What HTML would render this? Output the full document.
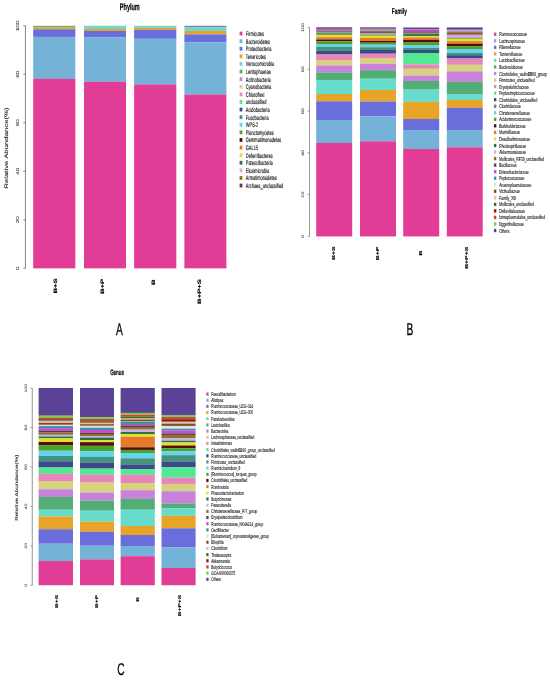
<!DOCTYPE html>
<html lang="en"><head><meta charset="utf-8"><title>Relative abundance: Phylum, Family, Genus</title>
<style>
html,body{margin:0;padding:0;background:#fff;}
body{width:550px;height:680px;overflow:hidden;}
svg{display:block;font-family:"Liberation Sans",sans-serif;text-rendering:geometricPrecision;}
</style></head><body>
<svg width="550" height="680" viewBox="0 0 550 680">
<defs><filter id="soft" x="0" y="0" width="550" height="680" filterUnits="userSpaceOnUse"><feGaussianBlur stdDeviation="0.45"/></filter></defs>
<rect width="550" height="680" fill="#fff"/>
<g filter="url(#soft)">
<g id="chartA">
<rect x="33.20" y="25.80" width="42.15" height="1.45" fill="#4DB88A"/>
<rect x="33.20" y="27.20" width="42.15" height="2.15" fill="#E8A428"/>
<rect x="33.20" y="29.30" width="42.15" height="7.65" fill="#6A6EDA"/>
<rect x="33.20" y="36.90" width="42.15" height="41.95" fill="#74B2D8"/>
<rect x="33.20" y="78.80" width="42.15" height="189.55" fill="#E23E96"/>
<rect x="84.00" y="25.80" width="42.00" height="0.85" fill="#4DB88A"/>
<rect x="84.00" y="26.60" width="42.00" height="2.35" fill="#68DCCC"/>
<rect x="84.00" y="28.90" width="42.00" height="2.05" fill="#E8A428"/>
<rect x="84.00" y="30.90" width="42.00" height="6.65" fill="#6A6EDA"/>
<rect x="84.00" y="37.50" width="42.00" height="44.35" fill="#74B2D8"/>
<rect x="84.00" y="81.80" width="42.00" height="186.55" fill="#E23E96"/>
<rect x="134.10" y="25.80" width="42.20" height="0.75" fill="#4DB88A"/>
<rect x="134.10" y="26.50" width="42.20" height="1.45" fill="#68DCCC"/>
<rect x="134.10" y="27.90" width="42.20" height="1.95" fill="#E8A428"/>
<rect x="134.10" y="29.80" width="42.20" height="9.05" fill="#6A6EDA"/>
<rect x="134.10" y="38.80" width="42.20" height="45.65" fill="#74B2D8"/>
<rect x="134.10" y="84.40" width="42.20" height="183.95" fill="#E23E96"/>
<rect x="184.40" y="25.80" width="42.00" height="1.35" fill="#A070A0"/>
<rect x="184.40" y="27.10" width="42.00" height="3.85" fill="#68DCCC"/>
<rect x="184.40" y="30.90" width="42.00" height="3.55" fill="#E8A428"/>
<rect x="184.40" y="34.40" width="42.00" height="8.05" fill="#6A6EDA"/>
<rect x="184.40" y="42.40" width="42.00" height="52.25" fill="#74B2D8"/>
<rect x="184.40" y="94.60" width="42.00" height="173.75" fill="#E23E96"/>
<g stroke="#222" stroke-width="0.55" fill="none">
<path d="M25.45 25.75V268.30M25.45 268.30H23.30M25.45 219.79H23.30M25.45 171.28H23.30M25.45 122.77H23.30M25.45 74.26H23.30M25.45 25.75H23.30"/></g>
<text transform="translate(19.20 268.30) rotate(-90) scale(1.520 1.000)" font-size="4.2" text-anchor="middle" fill="#333" stroke="#333" stroke-width="0.05">0</text>
<text transform="translate(19.20 219.79) rotate(-90) scale(1.520 1.000)" font-size="4.2" text-anchor="middle" fill="#333" stroke="#333" stroke-width="0.05">20</text>
<text transform="translate(19.20 171.28) rotate(-90) scale(1.520 1.000)" font-size="4.2" text-anchor="middle" fill="#333" stroke="#333" stroke-width="0.05">40</text>
<text transform="translate(19.20 122.77) rotate(-90) scale(1.520 1.000)" font-size="4.2" text-anchor="middle" fill="#333" stroke="#333" stroke-width="0.05">60</text>
<text transform="translate(19.20 74.26) rotate(-90) scale(1.520 1.000)" font-size="4.2" text-anchor="middle" fill="#333" stroke="#333" stroke-width="0.05">80</text>
<text transform="translate(19.20 25.75) rotate(-90) scale(1.520 1.000)" font-size="4.2" text-anchor="middle" fill="#333" stroke="#333" stroke-width="0.05">100</text>
<text transform="translate(8.30 148.03) rotate(-90) scale(1.500 1.000)" font-size="5.2" text-anchor="middle" fill="#222" stroke="#222" stroke-width="0.12">Relative Abundance(%)</text>
<text transform="translate(129.80 9.50) scale(0.573 1.000)" font-size="9.6" font-weight="bold" text-anchor="middle" fill="#000" stroke="#000" stroke-width="0.25">Phylum</text>
<rect x="239.60" y="31.65" width="2.80" height="3.80" fill="#E23E96"/>
<text transform="translate(245.80 35.90) scale(0.598 1.000)" font-size="6.6" fill="#111" stroke="#111" stroke-width="0.13">Firmicutes</text>
<rect x="239.60" y="39.25" width="2.80" height="3.80" fill="#74B2D8"/>
<text transform="translate(245.80 43.50) scale(0.598 1.000)" font-size="6.6" fill="#111" stroke="#111" stroke-width="0.13">Bacteroidetes</text>
<rect x="239.60" y="46.85" width="2.80" height="3.80" fill="#6A6EDA"/>
<text transform="translate(245.80 51.10) scale(0.598 1.000)" font-size="6.6" fill="#111" stroke="#111" stroke-width="0.13">Proteobacteria</text>
<rect x="239.60" y="54.45" width="2.80" height="3.80" fill="#E8A428"/>
<text transform="translate(245.80 58.70) scale(0.598 1.000)" font-size="6.6" fill="#111" stroke="#111" stroke-width="0.13">Tenericutes</text>
<rect x="239.60" y="62.05" width="2.80" height="3.80" fill="#68DCCC"/>
<text transform="translate(245.80 66.30) scale(0.598 1.000)" font-size="6.6" fill="#111" stroke="#111" stroke-width="0.13">Verrucomicrobia</text>
<rect x="239.60" y="69.65" width="2.80" height="3.80" fill="#52AE74"/>
<text transform="translate(245.80 73.90) scale(0.598 1.000)" font-size="6.6" fill="#111" stroke="#111" stroke-width="0.13">Lentisphaerae</text>
<rect x="239.60" y="77.25" width="2.80" height="3.80" fill="#C882DC"/>
<text transform="translate(245.80 81.50) scale(0.598 1.000)" font-size="6.6" fill="#111" stroke="#111" stroke-width="0.13">Actinobacteria</text>
<rect x="239.60" y="84.85" width="2.80" height="3.80" fill="#D6D27E"/>
<text transform="translate(245.80 89.10) scale(0.598 1.000)" font-size="6.6" fill="#111" stroke="#111" stroke-width="0.13">Cyanobacteria</text>
<rect x="239.60" y="92.45" width="2.80" height="3.80" fill="#E686BA"/>
<text transform="translate(245.80 96.70) scale(0.598 1.000)" font-size="6.6" fill="#111" stroke="#111" stroke-width="0.13">Chloroflexi</text>
<rect x="239.60" y="100.05" width="2.80" height="3.80" fill="#52E892"/>
<text transform="translate(245.80 104.30) scale(0.598 1.000)" font-size="6.6" fill="#111" stroke="#111" stroke-width="0.13">unclassified</text>
<rect x="239.60" y="107.65" width="2.80" height="3.80" fill="#3A4C88"/>
<text transform="translate(245.80 111.90) scale(0.598 1.000)" font-size="6.6" fill="#111" stroke="#111" stroke-width="0.13">Acidobacteria</text>
<rect x="239.60" y="115.25" width="2.80" height="3.80" fill="#44927E"/>
<text transform="translate(245.80 119.50) scale(0.598 1.000)" font-size="6.6" fill="#111" stroke="#111" stroke-width="0.13">Fusobacteria</text>
<rect x="239.60" y="122.85" width="2.80" height="3.80" fill="#64D4EC"/>
<text transform="translate(245.80 127.10) scale(0.598 1.000)" font-size="6.6" fill="#111" stroke="#111" stroke-width="0.13">WPS-2</text>
<rect x="239.60" y="130.45" width="2.80" height="3.80" fill="#4AA42C"/>
<text transform="translate(245.80 134.70) scale(0.598 1.000)" font-size="6.6" fill="#111" stroke="#111" stroke-width="0.13">Planctomycetes</text>
<rect x="239.60" y="138.05" width="2.80" height="3.80" fill="#541010"/>
<text transform="translate(245.80 142.30) scale(0.598 1.000)" font-size="6.6" fill="#111" stroke="#111" stroke-width="0.13">Gemmatimonadetes</text>
<rect x="239.60" y="145.65" width="2.80" height="3.80" fill="#E67A2A"/>
<text transform="translate(245.80 149.90) scale(0.598 1.000)" font-size="6.6" fill="#111" stroke="#111" stroke-width="0.13">GAL15</text>
<rect x="239.60" y="153.25" width="2.80" height="3.80" fill="#DEE22A"/>
<text transform="translate(245.80 157.50) scale(0.598 1.000)" font-size="6.6" fill="#111" stroke="#111" stroke-width="0.13">Deferribacteres</text>
<rect x="239.60" y="160.85" width="2.80" height="3.80" fill="#2E7048"/>
<text transform="translate(245.80 165.10) scale(0.598 1.000)" font-size="6.6" fill="#111" stroke="#111" stroke-width="0.13">Patescibacteria</text>
<rect x="239.60" y="168.45" width="2.80" height="3.80" fill="#CCB0EC"/>
<text transform="translate(245.80 172.70) scale(0.598 1.000)" font-size="6.6" fill="#111" stroke="#111" stroke-width="0.13">Elusimicrobia</text>
<rect x="239.60" y="176.05" width="2.80" height="3.80" fill="#907220"/>
<text transform="translate(245.80 180.30) scale(0.598 1.000)" font-size="6.6" fill="#111" stroke="#111" stroke-width="0.13">Armatimonadetes</text>
<rect x="239.60" y="183.65" width="2.80" height="3.80" fill="#583C54"/>
<text transform="translate(245.80 187.90) scale(0.598 1.000)" font-size="6.6" fill="#111" stroke="#111" stroke-width="0.13">Archaea_unclassified</text>
<text transform="translate(56.50 278.30) rotate(-90) scale(1.580 1.000)" font-size="4.9" font-weight="bold" text-anchor="end" fill="#000" stroke="#000" stroke-width="0.15">B+S</text>
<text transform="translate(103.50 278.80) rotate(-90) scale(1.580 1.000)" font-size="4.9" font-weight="bold" text-anchor="end" fill="#000" stroke="#000" stroke-width="0.15">B+P</text>
<text transform="translate(154.60 279.50) rotate(-90) scale(1.580 1.000)" font-size="4.9" font-weight="bold" text-anchor="end" fill="#000" stroke="#000" stroke-width="0.15">B</text>
<text transform="translate(200.70 279.00) rotate(-90) scale(1.580 1.000)" font-size="4.9" font-weight="bold" text-anchor="end" fill="#000" stroke="#000" stroke-width="0.15">B+P+S</text>
</g>
<g id="chartB">
<rect x="316.20" y="27.30" width="36.00" height="1.55" fill="#6A3A88"/>
<rect x="316.20" y="28.80" width="36.00" height="2.05" fill="#A070C0"/>
<rect x="316.20" y="30.80" width="36.00" height="1.05" fill="#805040"/>
<rect x="316.20" y="31.80" width="36.00" height="1.45" fill="#A0A080"/>
<rect x="316.20" y="33.20" width="36.00" height="1.65" fill="#3E8060"/>
<rect x="316.20" y="34.80" width="36.00" height="2.45" fill="#DEE22A"/>
<rect x="316.20" y="37.20" width="36.00" height="2.35" fill="#E67A2A"/>
<rect x="316.20" y="39.50" width="36.00" height="1.75" fill="#541010"/>
<rect x="316.20" y="41.20" width="36.00" height="3.35" fill="#4AA42C"/>
<rect x="316.20" y="44.50" width="36.00" height="2.55" fill="#64D4EC"/>
<rect x="316.20" y="47.00" width="36.00" height="3.85" fill="#44927E"/>
<rect x="316.20" y="50.80" width="36.00" height="3.75" fill="#3A4C88"/>
<rect x="316.20" y="54.50" width="36.00" height="5.55" fill="#E686BA"/>
<rect x="316.20" y="60.00" width="36.00" height="5.55" fill="#D6D27E"/>
<rect x="316.20" y="65.50" width="36.00" height="6.95" fill="#C882DC"/>
<rect x="316.20" y="72.40" width="36.00" height="7.65" fill="#52AE74"/>
<rect x="316.20" y="80.00" width="36.00" height="14.05" fill="#68DCCC"/>
<rect x="316.20" y="94.00" width="36.00" height="7.35" fill="#E8A428"/>
<rect x="316.20" y="101.30" width="36.00" height="18.75" fill="#6A6EDA"/>
<rect x="316.20" y="120.00" width="36.00" height="22.95" fill="#74B2D8"/>
<rect x="316.20" y="142.90" width="36.00" height="93.55" fill="#E23E96"/>
<rect x="360.00" y="27.30" width="36.00" height="1.55" fill="#6C4890"/>
<rect x="360.00" y="28.80" width="36.00" height="1.45" fill="#A890C0"/>
<rect x="360.00" y="30.20" width="36.00" height="1.05" fill="#909090"/>
<rect x="360.00" y="31.20" width="36.00" height="1.85" fill="#8A5A30"/>
<rect x="360.00" y="33.00" width="36.00" height="1.85" fill="#A8A0D0"/>
<rect x="360.00" y="34.80" width="36.00" height="1.05" fill="#70A030"/>
<rect x="360.00" y="35.80" width="36.00" height="2.25" fill="#DEE22A"/>
<rect x="360.00" y="38.00" width="36.00" height="3.05" fill="#E67A2A"/>
<rect x="360.00" y="41.00" width="36.00" height="1.75" fill="#541010"/>
<rect x="360.00" y="42.70" width="36.00" height="2.05" fill="#4AA42C"/>
<rect x="360.00" y="44.70" width="36.00" height="2.55" fill="#64D4EC"/>
<rect x="360.00" y="47.20" width="36.00" height="2.85" fill="#44927E"/>
<rect x="360.00" y="50.00" width="36.00" height="3.75" fill="#3A4C88"/>
<rect x="360.00" y="53.70" width="36.00" height="4.35" fill="#E686BA"/>
<rect x="360.00" y="58.00" width="36.00" height="5.75" fill="#D6D27E"/>
<rect x="360.00" y="63.70" width="36.00" height="6.55" fill="#C882DC"/>
<rect x="360.00" y="70.20" width="36.00" height="8.55" fill="#52AE74"/>
<rect x="360.00" y="78.70" width="36.00" height="11.35" fill="#68DCCC"/>
<rect x="360.00" y="90.00" width="36.00" height="11.55" fill="#E8A428"/>
<rect x="360.00" y="101.50" width="36.00" height="14.95" fill="#6A6EDA"/>
<rect x="360.00" y="116.40" width="36.00" height="24.95" fill="#74B2D8"/>
<rect x="360.00" y="141.30" width="36.00" height="95.15" fill="#E23E96"/>
<rect x="403.20" y="27.50" width="36.00" height="1.75" fill="#5A4890"/>
<rect x="403.20" y="29.20" width="36.00" height="0.85" fill="#B08090"/>
<rect x="403.20" y="30.00" width="36.00" height="2.05" fill="#B050C0"/>
<rect x="403.20" y="32.00" width="36.00" height="1.05" fill="#8A6A58"/>
<rect x="403.20" y="33.00" width="36.00" height="1.05" fill="#909088"/>
<rect x="403.20" y="34.00" width="36.00" height="2.05" fill="#3A7860"/>
<rect x="403.20" y="36.00" width="36.00" height="1.55" fill="#DEE22A"/>
<rect x="403.20" y="37.50" width="36.00" height="2.35" fill="#E67A2A"/>
<rect x="403.20" y="39.80" width="36.00" height="2.75" fill="#541010"/>
<rect x="403.20" y="42.50" width="36.00" height="3.05" fill="#4AA42C"/>
<rect x="403.20" y="45.50" width="36.00" height="2.55" fill="#64D4EC"/>
<rect x="403.20" y="48.00" width="36.00" height="2.05" fill="#44927E"/>
<rect x="403.20" y="50.00" width="36.00" height="3.05" fill="#3A4C88"/>
<rect x="403.20" y="53.00" width="36.00" height="11.55" fill="#52E892"/>
<rect x="403.20" y="64.50" width="36.00" height="4.35" fill="#E686BA"/>
<rect x="403.20" y="68.80" width="36.00" height="6.75" fill="#D6D27E"/>
<rect x="403.20" y="75.50" width="36.00" height="5.55" fill="#C882DC"/>
<rect x="403.20" y="81.00" width="36.00" height="8.65" fill="#52AE74"/>
<rect x="403.20" y="89.60" width="36.00" height="12.25" fill="#68DCCC"/>
<rect x="403.20" y="101.80" width="36.00" height="17.25" fill="#E8A428"/>
<rect x="403.20" y="119.00" width="36.00" height="11.05" fill="#6A6EDA"/>
<rect x="403.20" y="130.00" width="36.00" height="19.05" fill="#74B2D8"/>
<rect x="403.20" y="149.00" width="36.00" height="87.45" fill="#E23E96"/>
<rect x="446.80" y="27.50" width="35.90" height="2.05" fill="#4A3890"/>
<rect x="446.80" y="29.50" width="35.90" height="1.05" fill="#B07080"/>
<rect x="446.80" y="30.50" width="35.90" height="1.75" fill="#A898C8"/>
<rect x="446.80" y="32.20" width="35.90" height="2.65" fill="#8A6028"/>
<rect x="446.80" y="34.80" width="35.90" height="3.05" fill="#D0A8F0"/>
<rect x="446.80" y="37.80" width="35.90" height="1.05" fill="#60A030"/>
<rect x="446.80" y="38.80" width="35.90" height="2.45" fill="#DEE22A"/>
<rect x="446.80" y="41.20" width="35.90" height="2.65" fill="#E67A2A"/>
<rect x="446.80" y="43.80" width="35.90" height="2.45" fill="#541010"/>
<rect x="446.80" y="46.20" width="35.90" height="2.85" fill="#4AA42C"/>
<rect x="446.80" y="49.00" width="35.90" height="4.05" fill="#64D4EC"/>
<rect x="446.80" y="53.00" width="35.90" height="2.25" fill="#44927E"/>
<rect x="446.80" y="55.20" width="35.90" height="3.35" fill="#3A4C88"/>
<rect x="446.80" y="58.50" width="35.90" height="6.35" fill="#E686BA"/>
<rect x="446.80" y="64.80" width="35.90" height="6.65" fill="#D6D27E"/>
<rect x="446.80" y="71.40" width="35.90" height="10.45" fill="#C882DC"/>
<rect x="446.80" y="81.80" width="35.90" height="12.75" fill="#52AE74"/>
<rect x="446.80" y="94.50" width="35.90" height="5.55" fill="#68DCCC"/>
<rect x="446.80" y="100.00" width="35.90" height="7.85" fill="#E8A428"/>
<rect x="446.80" y="107.80" width="35.90" height="22.25" fill="#6A6EDA"/>
<rect x="446.80" y="130.00" width="35.90" height="17.35" fill="#74B2D8"/>
<rect x="446.80" y="147.30" width="35.90" height="89.15" fill="#E23E96"/>
<g stroke="#222" stroke-width="0.47" fill="none">
<path d="M309.53 27.52V236.35M309.53 236.35H307.68M309.53 194.58H307.68M309.53 152.82H307.68M309.53 111.05H307.68M309.53 69.28H307.68M309.53 27.52H307.68"/></g>
<text transform="translate(304.15 236.35) rotate(-90) scale(1.309 0.861)" font-size="4.2" text-anchor="middle" fill="#333" stroke="#333" stroke-width="0.05">0</text>
<text transform="translate(304.15 194.58) rotate(-90) scale(1.309 0.861)" font-size="4.2" text-anchor="middle" fill="#333" stroke="#333" stroke-width="0.05">20</text>
<text transform="translate(304.15 152.82) rotate(-90) scale(1.309 0.861)" font-size="4.2" text-anchor="middle" fill="#333" stroke="#333" stroke-width="0.05">40</text>
<text transform="translate(304.15 111.05) rotate(-90) scale(1.309 0.861)" font-size="4.2" text-anchor="middle" fill="#333" stroke="#333" stroke-width="0.05">60</text>
<text transform="translate(304.15 69.28) rotate(-90) scale(1.309 0.861)" font-size="4.2" text-anchor="middle" fill="#333" stroke="#333" stroke-width="0.05">80</text>
<text transform="translate(304.15 27.52) rotate(-90) scale(1.309 0.861)" font-size="4.2" text-anchor="middle" fill="#333" stroke="#333" stroke-width="0.05">100</text>
<text transform="translate(399.37 13.52) scale(0.493 0.861)" font-size="9.6" font-weight="bold" text-anchor="middle" fill="#000" stroke="#000" stroke-width="0.25">Family</text>
<rect x="493.91" y="32.60" width="2.41" height="3.27" fill="#E23E96"/>
<text transform="translate(499.25 36.25) scale(0.515 0.861)" font-size="6.6" fill="#111" stroke="#111" stroke-width="0.13">Ruminococcaceae</text>
<rect x="493.91" y="39.14" width="2.41" height="3.27" fill="#74B2D8"/>
<text transform="translate(499.25 42.80) scale(0.515 0.861)" font-size="6.6" fill="#111" stroke="#111" stroke-width="0.13">Lachnospiraceae</text>
<rect x="493.91" y="45.68" width="2.41" height="3.27" fill="#6A6EDA"/>
<text transform="translate(499.25 49.34) scale(0.515 0.861)" font-size="6.6" fill="#111" stroke="#111" stroke-width="0.13">Rikenellaceae</text>
<rect x="493.91" y="52.23" width="2.41" height="3.27" fill="#E8A428"/>
<text transform="translate(499.25 55.89) scale(0.515 0.861)" font-size="6.6" fill="#111" stroke="#111" stroke-width="0.13">Tannerellaceae</text>
<rect x="493.91" y="58.77" width="2.41" height="3.27" fill="#68DCCC"/>
<text transform="translate(499.25 62.43) scale(0.515 0.861)" font-size="6.6" fill="#111" stroke="#111" stroke-width="0.13">Lactobacillaceae</text>
<rect x="493.91" y="65.31" width="2.41" height="3.27" fill="#52AE74"/>
<text transform="translate(499.25 68.97) scale(0.515 0.861)" font-size="6.6" fill="#111" stroke="#111" stroke-width="0.13">Bacteroidaceae</text>
<rect x="493.91" y="71.86" width="2.41" height="3.27" fill="#C882DC"/>
<text transform="translate(499.25 75.52) scale(0.515 0.861)" font-size="6.6" fill="#111" stroke="#111" stroke-width="0.13">Clostridiales_vadinBB60_group</text>
<rect x="493.91" y="78.40" width="2.41" height="3.27" fill="#D6D27E"/>
<text transform="translate(499.25 82.06) scale(0.515 0.861)" font-size="6.6" fill="#111" stroke="#111" stroke-width="0.13">Firmicutes_unclassified</text>
<rect x="493.91" y="84.94" width="2.41" height="3.27" fill="#E686BA"/>
<text transform="translate(499.25 88.60) scale(0.515 0.861)" font-size="6.6" fill="#111" stroke="#111" stroke-width="0.13">Erysipelotrichaceae</text>
<rect x="493.91" y="91.49" width="2.41" height="3.27" fill="#52E892"/>
<text transform="translate(499.25 95.15) scale(0.515 0.861)" font-size="6.6" fill="#111" stroke="#111" stroke-width="0.13">Peptostreptococcaceae</text>
<rect x="493.91" y="98.03" width="2.41" height="3.27" fill="#3A4C88"/>
<text transform="translate(499.25 101.69) scale(0.515 0.861)" font-size="6.6" fill="#111" stroke="#111" stroke-width="0.13">Clostridiales_unclassified</text>
<rect x="493.91" y="104.57" width="2.41" height="3.27" fill="#44927E"/>
<text transform="translate(499.25 108.23) scale(0.515 0.861)" font-size="6.6" fill="#111" stroke="#111" stroke-width="0.13">Clostridiaceae</text>
<rect x="493.91" y="111.12" width="2.41" height="3.27" fill="#64D4EC"/>
<text transform="translate(499.25 114.78) scale(0.515 0.861)" font-size="6.6" fill="#111" stroke="#111" stroke-width="0.13">Christensenellaceae</text>
<rect x="493.91" y="117.66" width="2.41" height="3.27" fill="#4AA42C"/>
<text transform="translate(499.25 121.32) scale(0.515 0.861)" font-size="6.6" fill="#111" stroke="#111" stroke-width="0.13">Acidaminococcaceae</text>
<rect x="493.91" y="124.21" width="2.41" height="3.27" fill="#541010"/>
<text transform="translate(499.25 127.86) scale(0.515 0.861)" font-size="6.6" fill="#111" stroke="#111" stroke-width="0.13">Burkholderiaceae</text>
<rect x="493.91" y="130.75" width="2.41" height="3.27" fill="#E67A2A"/>
<text transform="translate(499.25 134.41) scale(0.515 0.861)" font-size="6.6" fill="#111" stroke="#111" stroke-width="0.13">Marinifilaceae</text>
<rect x="493.91" y="137.29" width="2.41" height="3.27" fill="#DEE22A"/>
<text transform="translate(499.25 140.95) scale(0.515 0.861)" font-size="6.6" fill="#111" stroke="#111" stroke-width="0.13">Desulfovibrionaceae</text>
<rect x="493.91" y="143.84" width="2.41" height="3.27" fill="#2E7048"/>
<text transform="translate(499.25 147.50) scale(0.515 0.861)" font-size="6.6" fill="#111" stroke="#111" stroke-width="0.13">Rhodospirillaceae</text>
<rect x="493.91" y="150.38" width="2.41" height="3.27" fill="#CCB0EC"/>
<text transform="translate(499.25 154.04) scale(0.515 0.861)" font-size="6.6" fill="#111" stroke="#111" stroke-width="0.13">Akkermansiaceae</text>
<rect x="493.91" y="156.92" width="2.41" height="3.27" fill="#907220"/>
<text transform="translate(499.25 160.58) scale(0.515 0.861)" font-size="6.6" fill="#111" stroke="#111" stroke-width="0.13">Mollicutes_RF39_unclassified</text>
<rect x="493.91" y="163.47" width="2.41" height="3.27" fill="#583C54"/>
<text transform="translate(499.25 167.13) scale(0.515 0.861)" font-size="6.6" fill="#111" stroke="#111" stroke-width="0.13">Bacillaceae</text>
<rect x="493.91" y="170.01" width="2.41" height="3.27" fill="#CC48E0"/>
<text transform="translate(499.25 173.67) scale(0.515 0.861)" font-size="6.6" fill="#111" stroke="#111" stroke-width="0.13">Enterobacteriaceae</text>
<rect x="493.91" y="176.55" width="2.41" height="3.27" fill="#3E90A0"/>
<text transform="translate(499.25 180.21) scale(0.515 0.861)" font-size="6.6" fill="#111" stroke="#111" stroke-width="0.13">Peptococcaceae</text>
<rect x="493.91" y="183.10" width="2.41" height="3.27" fill="#D0E6DE"/>
<text transform="translate(499.25 186.76) scale(0.515 0.861)" font-size="6.6" fill="#111" stroke="#111" stroke-width="0.13">Anaeroplasmataceae</text>
<rect x="493.91" y="189.64" width="2.41" height="3.27" fill="#8C4A1A"/>
<text transform="translate(499.25 193.30) scale(0.515 0.861)" font-size="6.6" fill="#111" stroke="#111" stroke-width="0.13">Victivallaceae</text>
<rect x="493.91" y="196.19" width="2.41" height="3.27" fill="#ECB6B8"/>
<text transform="translate(499.25 199.84) scale(0.515 0.861)" font-size="6.6" fill="#111" stroke="#111" stroke-width="0.13">Family_XIII</text>
<rect x="493.91" y="202.73" width="2.41" height="3.27" fill="#3E7018"/>
<text transform="translate(499.25 206.39) scale(0.515 0.861)" font-size="6.6" fill="#111" stroke="#111" stroke-width="0.13">Mollicutes_unclassified</text>
<rect x="493.91" y="209.27" width="2.41" height="3.27" fill="#8C1418"/>
<text transform="translate(499.25 212.93) scale(0.515 0.861)" font-size="6.6" fill="#111" stroke="#111" stroke-width="0.13">Defluviitaleaceae</text>
<rect x="493.91" y="215.82" width="2.41" height="3.27" fill="#E03444"/>
<text transform="translate(499.25 219.48) scale(0.515 0.861)" font-size="6.6" fill="#111" stroke="#111" stroke-width="0.13">Izimaplasmatales_unclassified</text>
<rect x="493.91" y="222.36" width="2.41" height="3.27" fill="#5CE42C"/>
<text transform="translate(499.25 226.02) scale(0.515 0.861)" font-size="6.6" fill="#111" stroke="#111" stroke-width="0.13">Eggerthellaceae</text>
<rect x="493.91" y="228.90" width="2.41" height="3.27" fill="#5B4296"/>
<text transform="translate(499.25 232.56) scale(0.515 0.861)" font-size="6.6" fill="#111" stroke="#111" stroke-width="0.13">Others</text>
<text transform="translate(334.70 246.50) rotate(-90) scale(1.395 0.861)" font-size="4.9" font-weight="bold" text-anchor="end" fill="#000" stroke="#000" stroke-width="0.15">B+S</text>
<text transform="translate(378.90 246.80) rotate(-90) scale(1.395 0.861)" font-size="4.9" font-weight="bold" text-anchor="end" fill="#000" stroke="#000" stroke-width="0.15">B+P</text>
<text transform="translate(422.20 250.60) rotate(-90) scale(1.395 0.861)" font-size="4.9" font-weight="bold" text-anchor="end" fill="#000" stroke="#000" stroke-width="0.15">B</text>
<text transform="translate(467.60 246.80) rotate(-90) scale(1.395 0.861)" font-size="4.9" font-weight="bold" text-anchor="end" fill="#000" stroke="#000" stroke-width="0.15">B+P+S</text>
</g>
<g id="chartC">
<rect x="38.60" y="388.00" width="34.40" height="27.75" fill="#5B4296"/>
<rect x="38.60" y="415.70" width="34.40" height="1.85" fill="#5CE42C"/>
<rect x="38.60" y="417.50" width="34.40" height="1.65" fill="#E03444"/>
<rect x="38.60" y="419.10" width="34.40" height="1.75" fill="#55601E"/>
<rect x="38.60" y="420.80" width="34.40" height="2.05" fill="#ECB6B8"/>
<rect x="38.60" y="422.80" width="34.40" height="2.05" fill="#8C4A1A"/>
<rect x="38.60" y="424.80" width="34.40" height="1.35" fill="#D0E6DE"/>
<rect x="38.60" y="426.10" width="34.40" height="2.05" fill="#3E90A0"/>
<rect x="38.60" y="428.10" width="34.40" height="2.45" fill="#CC48E0"/>
<rect x="38.60" y="430.50" width="34.40" height="2.05" fill="#583C54"/>
<rect x="38.60" y="432.50" width="34.40" height="2.35" fill="#907220"/>
<rect x="38.60" y="434.80" width="34.40" height="1.75" fill="#CCB0EC"/>
<rect x="38.60" y="436.50" width="34.40" height="1.85" fill="#2E7048"/>
<rect x="38.60" y="438.30" width="34.40" height="3.75" fill="#DEE22A"/>
<rect x="38.60" y="442.00" width="34.40" height="3.45" fill="#541010"/>
<rect x="38.60" y="445.40" width="34.40" height="5.35" fill="#4AA42C"/>
<rect x="38.60" y="450.70" width="34.40" height="5.35" fill="#64D4EC"/>
<rect x="38.60" y="456.00" width="34.40" height="5.35" fill="#44927E"/>
<rect x="38.60" y="461.30" width="34.40" height="6.25" fill="#3A4C88"/>
<rect x="38.60" y="467.50" width="34.40" height="6.35" fill="#52E892"/>
<rect x="38.60" y="473.80" width="34.40" height="7.25" fill="#E686BA"/>
<rect x="38.60" y="481.00" width="34.40" height="8.35" fill="#D6D27E"/>
<rect x="38.60" y="489.30" width="34.40" height="7.65" fill="#C882DC"/>
<rect x="38.60" y="496.90" width="34.40" height="12.85" fill="#52AE74"/>
<rect x="38.60" y="509.70" width="34.40" height="6.75" fill="#68DCCC"/>
<rect x="38.60" y="516.40" width="34.40" height="12.85" fill="#E8A428"/>
<rect x="38.60" y="529.20" width="34.40" height="14.55" fill="#6A6EDA"/>
<rect x="38.60" y="543.70" width="34.40" height="17.35" fill="#74B2D8"/>
<rect x="38.60" y="561.00" width="34.40" height="24.25" fill="#E23E96"/>
<rect x="80.00" y="388.00" width="34.00" height="29.35" fill="#5B4296"/>
<rect x="80.00" y="417.30" width="34.00" height="1.65" fill="#5CE42C"/>
<rect x="80.00" y="418.90" width="34.00" height="2.35" fill="#E03444"/>
<rect x="80.00" y="421.20" width="34.00" height="1.65" fill="#55601E"/>
<rect x="80.00" y="422.80" width="34.00" height="1.45" fill="#ECB6B8"/>
<rect x="80.00" y="424.20" width="34.00" height="1.65" fill="#8C4A1A"/>
<rect x="80.00" y="425.80" width="34.00" height="2.05" fill="#D0E6DE"/>
<rect x="80.00" y="427.80" width="34.00" height="2.15" fill="#3E90A0"/>
<rect x="80.00" y="429.90" width="34.00" height="2.85" fill="#CC48E0"/>
<rect x="80.00" y="432.70" width="34.00" height="1.35" fill="#583C54"/>
<rect x="80.00" y="434.00" width="34.00" height="2.05" fill="#907220"/>
<rect x="80.00" y="436.00" width="34.00" height="1.65" fill="#CCB0EC"/>
<rect x="80.00" y="437.60" width="34.00" height="2.65" fill="#2E7048"/>
<rect x="80.00" y="440.20" width="34.00" height="2.05" fill="#DEE22A"/>
<rect x="80.00" y="442.20" width="34.00" height="3.65" fill="#541010"/>
<rect x="80.00" y="445.80" width="34.00" height="5.45" fill="#4AA42C"/>
<rect x="80.00" y="451.20" width="34.00" height="5.75" fill="#64D4EC"/>
<rect x="80.00" y="456.90" width="34.00" height="5.95" fill="#44927E"/>
<rect x="80.00" y="462.80" width="34.00" height="5.85" fill="#3A4C88"/>
<rect x="80.00" y="468.60" width="34.00" height="6.15" fill="#52E892"/>
<rect x="80.00" y="474.70" width="34.00" height="7.95" fill="#E686BA"/>
<rect x="80.00" y="482.60" width="34.00" height="9.95" fill="#D6D27E"/>
<rect x="80.00" y="492.50" width="34.00" height="8.05" fill="#C882DC"/>
<rect x="80.00" y="500.50" width="34.00" height="10.25" fill="#52AE74"/>
<rect x="80.00" y="510.70" width="34.00" height="10.95" fill="#68DCCC"/>
<rect x="80.00" y="521.60" width="34.00" height="10.15" fill="#E8A428"/>
<rect x="80.00" y="531.70" width="34.00" height="14.05" fill="#6A6EDA"/>
<rect x="80.00" y="545.70" width="34.00" height="13.75" fill="#74B2D8"/>
<rect x="80.00" y="559.40" width="34.00" height="25.85" fill="#E23E96"/>
<rect x="120.60" y="388.00" width="34.20" height="24.95" fill="#5B4296"/>
<rect x="120.60" y="412.90" width="34.20" height="1.75" fill="#5CE42C"/>
<rect x="120.60" y="414.60" width="34.20" height="1.85" fill="#E03444"/>
<rect x="120.60" y="416.40" width="34.20" height="2.05" fill="#3E7018"/>
<rect x="120.60" y="418.40" width="34.20" height="1.35" fill="#D8A890"/>
<rect x="120.60" y="419.70" width="34.20" height="1.45" fill="#8C4A1A"/>
<rect x="120.60" y="421.10" width="34.20" height="0.95" fill="#88B0B0"/>
<rect x="120.60" y="422.00" width="34.20" height="1.95" fill="#3E90A0"/>
<rect x="120.60" y="423.90" width="34.20" height="1.65" fill="#B050C8"/>
<rect x="120.60" y="425.50" width="34.20" height="1.55" fill="#583C54"/>
<rect x="120.60" y="427.00" width="34.20" height="2.65" fill="#907220"/>
<rect x="120.60" y="429.60" width="34.20" height="2.45" fill="#CCB0EC"/>
<rect x="120.60" y="432.00" width="34.20" height="2.05" fill="#2E7048"/>
<rect x="120.60" y="434.00" width="34.20" height="2.75" fill="#DEE22A"/>
<rect x="120.60" y="436.70" width="34.20" height="10.65" fill="#E67A2A"/>
<rect x="120.60" y="447.30" width="34.20" height="2.65" fill="#541010"/>
<rect x="120.60" y="449.90" width="34.20" height="3.15" fill="#4AA42C"/>
<rect x="120.60" y="453.00" width="34.20" height="5.35" fill="#64D4EC"/>
<rect x="120.60" y="458.30" width="34.20" height="6.15" fill="#44927E"/>
<rect x="120.60" y="464.40" width="34.20" height="4.85" fill="#3A4C88"/>
<rect x="120.60" y="469.20" width="34.20" height="5.55" fill="#52E892"/>
<rect x="120.60" y="474.70" width="34.20" height="8.35" fill="#E686BA"/>
<rect x="120.60" y="483.00" width="34.20" height="7.25" fill="#D6D27E"/>
<rect x="120.60" y="490.20" width="34.20" height="8.65" fill="#C882DC"/>
<rect x="120.60" y="498.80" width="34.20" height="10.95" fill="#52AE74"/>
<rect x="120.60" y="509.70" width="34.20" height="16.35" fill="#68DCCC"/>
<rect x="120.60" y="526.00" width="34.20" height="9.05" fill="#E8A428"/>
<rect x="120.60" y="535.00" width="34.20" height="11.05" fill="#6A6EDA"/>
<rect x="120.60" y="546.00" width="34.20" height="10.25" fill="#74B2D8"/>
<rect x="120.60" y="556.20" width="34.20" height="29.05" fill="#E23E96"/>
<rect x="161.50" y="388.00" width="34.10" height="27.55" fill="#5B4296"/>
<rect x="161.50" y="415.50" width="34.10" height="1.65" fill="#5CE42C"/>
<rect x="161.50" y="417.10" width="34.10" height="2.25" fill="#E03444"/>
<rect x="161.50" y="419.30" width="34.10" height="1.95" fill="#8C1418"/>
<rect x="161.50" y="421.20" width="34.10" height="0.95" fill="#80702A"/>
<rect x="161.50" y="422.10" width="34.10" height="1.65" fill="#ECB6B8"/>
<rect x="161.50" y="423.70" width="34.10" height="2.25" fill="#8C4A1A"/>
<rect x="161.50" y="425.90" width="34.10" height="2.85" fill="#D0E6DE"/>
<rect x="161.50" y="428.70" width="34.10" height="1.85" fill="#3E90A0"/>
<rect x="161.50" y="430.50" width="34.10" height="2.95" fill="#CC48E0"/>
<rect x="161.50" y="433.40" width="34.10" height="1.55" fill="#583C54"/>
<rect x="161.50" y="434.90" width="34.10" height="3.15" fill="#907220"/>
<rect x="161.50" y="438.00" width="34.10" height="2.75" fill="#CCB0EC"/>
<rect x="161.50" y="440.70" width="34.10" height="1.75" fill="#2E7048"/>
<rect x="161.50" y="442.40" width="34.10" height="3.15" fill="#DEE22A"/>
<rect x="161.50" y="445.50" width="34.10" height="2.75" fill="#541010"/>
<rect x="161.50" y="448.20" width="34.10" height="3.05" fill="#4AA42C"/>
<rect x="161.50" y="451.20" width="34.10" height="4.05" fill="#64D4EC"/>
<rect x="161.50" y="455.20" width="34.10" height="6.25" fill="#44927E"/>
<rect x="161.50" y="461.40" width="34.10" height="5.95" fill="#3A4C88"/>
<rect x="161.50" y="467.30" width="34.10" height="10.35" fill="#52E892"/>
<rect x="161.50" y="477.60" width="34.10" height="6.35" fill="#E686BA"/>
<rect x="161.50" y="483.90" width="34.10" height="7.35" fill="#D6D27E"/>
<rect x="161.50" y="491.20" width="34.10" height="12.45" fill="#C882DC"/>
<rect x="161.50" y="503.60" width="34.10" height="4.65" fill="#52AE74"/>
<rect x="161.50" y="508.20" width="34.10" height="7.65" fill="#68DCCC"/>
<rect x="161.50" y="515.80" width="34.10" height="12.55" fill="#E8A428"/>
<rect x="161.50" y="528.30" width="34.10" height="19.15" fill="#6A6EDA"/>
<rect x="161.50" y="547.40" width="34.10" height="20.65" fill="#74B2D8"/>
<rect x="161.50" y="568.00" width="34.10" height="17.25" fill="#E23E96"/>
<g stroke="#222" stroke-width="0.45" fill="none">
<path d="M32.30 388.20V585.27M32.30 585.27H30.56M32.30 545.86H30.56M32.30 506.45H30.56M32.30 467.03H30.56M32.30 427.62H30.56M32.30 388.20H30.56"/></g>
<text transform="translate(27.22 585.27) rotate(-90) scale(1.235 0.812)" font-size="4.2" text-anchor="middle" fill="#333" stroke="#333" stroke-width="0.05">0</text>
<text transform="translate(27.22 545.86) rotate(-90) scale(1.235 0.812)" font-size="4.2" text-anchor="middle" fill="#333" stroke="#333" stroke-width="0.05">20</text>
<text transform="translate(27.22 506.45) rotate(-90) scale(1.235 0.812)" font-size="4.2" text-anchor="middle" fill="#333" stroke="#333" stroke-width="0.05">40</text>
<text transform="translate(27.22 467.03) rotate(-90) scale(1.235 0.812)" font-size="4.2" text-anchor="middle" fill="#333" stroke="#333" stroke-width="0.05">60</text>
<text transform="translate(27.22 427.62) rotate(-90) scale(1.235 0.812)" font-size="4.2" text-anchor="middle" fill="#333" stroke="#333" stroke-width="0.05">80</text>
<text transform="translate(27.22 388.20) rotate(-90) scale(1.235 0.812)" font-size="4.2" text-anchor="middle" fill="#333" stroke="#333" stroke-width="0.05">100</text>
<text transform="translate(18.37 487.74) rotate(-90) scale(1.219 0.812)" font-size="5.2" text-anchor="middle" fill="#222" stroke="#222" stroke-width="0.12">Relative Abundance(%)</text>
<text transform="translate(117.09 375.00) scale(0.466 0.812)" font-size="9.6" font-weight="bold" text-anchor="middle" fill="#000" stroke="#000" stroke-width="0.25">Genus</text>
<rect x="206.30" y="392.50" width="2.27" height="3.09" fill="#E23E96"/>
<text transform="translate(211.34 395.95) scale(0.486 0.812)" font-size="6.6" fill="#111" stroke="#111" stroke-width="0.13">Faecalibacterium</text>
<rect x="206.30" y="398.67" width="2.27" height="3.09" fill="#74B2D8"/>
<text transform="translate(211.34 402.12) scale(0.486 0.812)" font-size="6.6" fill="#111" stroke="#111" stroke-width="0.13">Alistipes</text>
<rect x="206.30" y="404.85" width="2.27" height="3.09" fill="#6A6EDA"/>
<text transform="translate(211.34 408.30) scale(0.486 0.812)" font-size="6.6" fill="#111" stroke="#111" stroke-width="0.13">Ruminococcaceae_UCG-014</text>
<rect x="206.30" y="411.02" width="2.27" height="3.09" fill="#E8A428"/>
<text transform="translate(211.34 414.48) scale(0.486 0.812)" font-size="6.6" fill="#111" stroke="#111" stroke-width="0.13">Ruminococcaceae_UCG-005</text>
<rect x="206.30" y="417.20" width="2.27" height="3.09" fill="#68DCCC"/>
<text transform="translate(211.34 420.65) scale(0.486 0.812)" font-size="6.6" fill="#111" stroke="#111" stroke-width="0.13">Parabacteroides</text>
<rect x="206.30" y="423.37" width="2.27" height="3.09" fill="#52AE74"/>
<text transform="translate(211.34 426.82) scale(0.486 0.812)" font-size="6.6" fill="#111" stroke="#111" stroke-width="0.13">Lactobacillus</text>
<rect x="206.30" y="429.55" width="2.27" height="3.09" fill="#C882DC"/>
<text transform="translate(211.34 433.00) scale(0.486 0.812)" font-size="6.6" fill="#111" stroke="#111" stroke-width="0.13">Bacteroides</text>
<rect x="206.30" y="435.72" width="2.27" height="3.09" fill="#D6D27E"/>
<text transform="translate(211.34 439.18) scale(0.486 0.812)" font-size="6.6" fill="#111" stroke="#111" stroke-width="0.13">Lachnospiraceae_unclassified</text>
<rect x="206.30" y="441.90" width="2.27" height="3.09" fill="#E686BA"/>
<text transform="translate(211.34 445.35) scale(0.486 0.812)" font-size="6.6" fill="#111" stroke="#111" stroke-width="0.13">Intestinimonas</text>
<rect x="206.30" y="448.07" width="2.27" height="3.09" fill="#52E892"/>
<text transform="translate(211.34 451.53) scale(0.486 0.812)" font-size="6.6" fill="#111" stroke="#111" stroke-width="0.13">Clostridiales_vadinBB60_group_unclassified</text>
<rect x="206.30" y="454.25" width="2.27" height="3.09" fill="#3A4C88"/>
<text transform="translate(211.34 457.70) scale(0.486 0.812)" font-size="6.6" fill="#111" stroke="#111" stroke-width="0.13">Ruminococcaceae_unclassified</text>
<rect x="206.30" y="460.42" width="2.27" height="3.09" fill="#44927E"/>
<text transform="translate(211.34 463.88) scale(0.486 0.812)" font-size="6.6" fill="#111" stroke="#111" stroke-width="0.13">Firmicutes_unclassified</text>
<rect x="206.30" y="466.60" width="2.27" height="3.09" fill="#64D4EC"/>
<text transform="translate(211.34 470.05) scale(0.486 0.812)" font-size="6.6" fill="#111" stroke="#111" stroke-width="0.13">Ruminiclostridium_9</text>
<rect x="206.30" y="472.77" width="2.27" height="3.09" fill="#4AA42C"/>
<text transform="translate(211.34 476.23) scale(0.486 0.812)" font-size="6.6" fill="#111" stroke="#111" stroke-width="0.13">[Ruminococcus]_torques_group</text>
<rect x="206.30" y="478.95" width="2.27" height="3.09" fill="#541010"/>
<text transform="translate(211.34 482.40) scale(0.486 0.812)" font-size="6.6" fill="#111" stroke="#111" stroke-width="0.13">Clostridiales_unclassified</text>
<rect x="206.30" y="485.12" width="2.27" height="3.09" fill="#E67A2A"/>
<text transform="translate(211.34 488.57) scale(0.486 0.812)" font-size="6.6" fill="#111" stroke="#111" stroke-width="0.13">Romboutsia</text>
<rect x="206.30" y="491.30" width="2.27" height="3.09" fill="#DEE22A"/>
<text transform="translate(211.34 494.75) scale(0.486 0.812)" font-size="6.6" fill="#111" stroke="#111" stroke-width="0.13">Phascolarctobacterium</text>
<rect x="206.30" y="497.47" width="2.27" height="3.09" fill="#2E7048"/>
<text transform="translate(211.34 500.93) scale(0.486 0.812)" font-size="6.6" fill="#111" stroke="#111" stroke-width="0.13">Butyricimonas</text>
<rect x="206.30" y="503.65" width="2.27" height="3.09" fill="#CCB0EC"/>
<text transform="translate(211.34 507.10) scale(0.486 0.812)" font-size="6.6" fill="#111" stroke="#111" stroke-width="0.13">Parasutterella</text>
<rect x="206.30" y="509.82" width="2.27" height="3.09" fill="#907220"/>
<text transform="translate(211.34 513.27) scale(0.486 0.812)" font-size="6.6" fill="#111" stroke="#111" stroke-width="0.13">Christensenellaceae_R-7_group</text>
<rect x="206.30" y="516.00" width="2.27" height="3.09" fill="#583C54"/>
<text transform="translate(211.34 519.45) scale(0.486 0.812)" font-size="6.6" fill="#111" stroke="#111" stroke-width="0.13">Erysipelatoclostridium</text>
<rect x="206.30" y="522.17" width="2.27" height="3.09" fill="#CC48E0"/>
<text transform="translate(211.34 525.62) scale(0.486 0.812)" font-size="6.6" fill="#111" stroke="#111" stroke-width="0.13">Ruminococcaceae_NK4A214_group</text>
<rect x="206.30" y="528.35" width="2.27" height="3.09" fill="#3E90A0"/>
<text transform="translate(211.34 531.80) scale(0.486 0.812)" font-size="6.6" fill="#111" stroke="#111" stroke-width="0.13">Oscillibacter</text>
<rect x="206.30" y="534.52" width="2.27" height="3.09" fill="#D0E6DE"/>
<text transform="translate(211.34 537.97) scale(0.486 0.812)" font-size="6.6" fill="#111" stroke="#111" stroke-width="0.13">[Eubacterium]_coprostanoligenes_group</text>
<rect x="206.30" y="540.70" width="2.27" height="3.09" fill="#8C4A1A"/>
<text transform="translate(211.34 544.15) scale(0.486 0.812)" font-size="6.6" fill="#111" stroke="#111" stroke-width="0.13">Bilophila</text>
<rect x="206.30" y="546.87" width="2.27" height="3.09" fill="#ECB6B8"/>
<text transform="translate(211.34 550.32) scale(0.486 0.812)" font-size="6.6" fill="#111" stroke="#111" stroke-width="0.13">Clostridium</text>
<rect x="206.30" y="553.05" width="2.27" height="3.09" fill="#3E7018"/>
<text transform="translate(211.34 556.50) scale(0.486 0.812)" font-size="6.6" fill="#111" stroke="#111" stroke-width="0.13">Thalassospira</text>
<rect x="206.30" y="559.22" width="2.27" height="3.09" fill="#8C1418"/>
<text transform="translate(211.34 562.67) scale(0.486 0.812)" font-size="6.6" fill="#111" stroke="#111" stroke-width="0.13">Akkermansia</text>
<rect x="206.30" y="565.40" width="2.27" height="3.09" fill="#E03444"/>
<text transform="translate(211.34 568.85) scale(0.486 0.812)" font-size="6.6" fill="#111" stroke="#111" stroke-width="0.13">Butyricicoccus</text>
<rect x="206.30" y="571.57" width="2.27" height="3.09" fill="#5CE42C"/>
<text transform="translate(211.34 575.02) scale(0.486 0.812)" font-size="6.6" fill="#111" stroke="#111" stroke-width="0.13">GCA-900066575</text>
<rect x="206.30" y="577.75" width="2.27" height="3.09" fill="#5B4296"/>
<text transform="translate(211.34 581.20) scale(0.486 0.812)" font-size="6.6" fill="#111" stroke="#111" stroke-width="0.13">Others</text>
<text transform="translate(58.10 594.80) rotate(-90) scale(1.365 0.812)" font-size="4.9" font-weight="bold" text-anchor="end" fill="#000" stroke="#000" stroke-width="0.15">B+S</text>
<text transform="translate(97.70 594.80) rotate(-90) scale(1.365 0.812)" font-size="4.9" font-weight="bold" text-anchor="end" fill="#000" stroke="#000" stroke-width="0.15">B+P</text>
<text transform="translate(138.60 597.00) rotate(-90) scale(1.365 0.812)" font-size="4.9" font-weight="bold" text-anchor="end" fill="#000" stroke="#000" stroke-width="0.15">B</text>
<text transform="translate(180.60 594.80) rotate(-90) scale(1.365 0.812)" font-size="4.9" font-weight="bold" text-anchor="end" fill="#000" stroke="#000" stroke-width="0.15">B+P+S</text>
</g>
<text transform="translate(119.5 334.9) scale(0.6 1)" font-size="17" text-anchor="middle" fill="#000" stroke="#000" stroke-width="0.3">A</text>
<text transform="translate(409.9 334.9) scale(0.6 1)" font-size="17" text-anchor="middle" fill="#000" stroke="#000" stroke-width="0.3">B</text>
<text transform="translate(120.9 675.0) scale(0.6 1)" font-size="17" text-anchor="middle" fill="#000" stroke="#000" stroke-width="0.3">C</text>
</g>
</svg>
</body></html>
